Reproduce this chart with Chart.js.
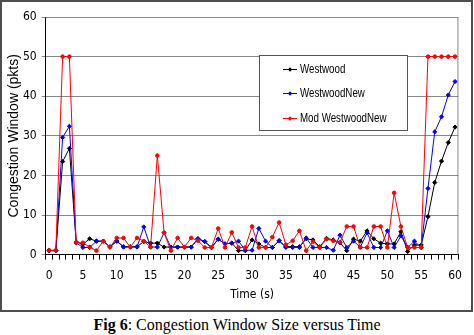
<!DOCTYPE html>
<html>
<head>
<meta charset="utf-8">
<script src="https://cdn.jsdelivr.net/npm/chart.js@4.4.1/dist/chart.umd.min.js"></script>
<style>
  body { margin: 0; background: #fff; }
  #frame { position: absolute; left: 0; top: 0; width: 469px; height: 308px; border: 2px solid #4d4d4d; background: #fff; }
  #caption { position: absolute; left: 0; top: 316px; width: 474px; text-align: center;
    font-family: "Liberation Serif", "Times New Roman", serif; font-size: 16px; color: #000; line-height: 18px; }
</style>
</head>
<body>
<div id="frame"><canvas id="myChart" width="469" height="308"></canvas></div>
<div id="caption"><b>Fig 6</b>: Congestion Window Size versus Time</div>
<script>
const time = [0, 1, 2, 3, 4, 5, 6, 7, 8, 9, 10, 11, 12, 13, 14, 15, 16, 17, 18, 19, 20,
  21, 22, 23, 24, 25, 26, 27, 28, 29, 30, 31, 32, 33, 34, 35, 36, 37, 38, 39, 40,
  41, 42, 43, 44, 45, 46, 47, 48, 49, 50, 51, 52, 53, 54, 55, 56, 57, 58, 59, 60];

const westwood = [1, 1, 23.5, 26.8, 3.2, 2.6, 4.0, 3.4, 3.4, 2.0, 3.4, 2.0, 2.0, 2.0, 3.3, 2.9, 2.9, 1.9, 1.9, 1.9, 1.9,
  1.9, 4.0, 3.3, 1.8, 3.9, 2.7, 2.9, 1.0, 1.0, 3.7, 2.7, 1.8, 1.8, 3.5, 2.0, 2.0, 2.0, 4.0, 3.7, 2.0,
  4.1, 3.7, 3.0, 1.0, 3.9, 3.4, 6.0, 4.0, 2.9, 2.7, 2.7, 5.8, 0.8, 2.4, 2.4, 9.6, 18.2, 23.6, 28.3, 32.2];

const westwoodNew = [1, 1, 29.6, 32.4, 3.0, 1.8, 1.8, 3.4, 3.4, 1.9, 3.4, 1.9, 1.9, 1.9, 7.0, 1.9, 1.9, 5.5, 1.9, 1.9, 1.9,
  1.9, 4.0, 3.3, 1.8, 3.9, 2.7, 2.9, 3.4, 1.1, 1.1, 6.6, 3.4, 1.8, 3.5, 1.8, 1.8, 1.8, 4.2, 1.8, 1.8,
  1.8, 1.1, 4.9, 1.8, 3.4, 1.9, 5.5, 1.8, 1.8, 6.0, 1.8, 4.7, 1.8, 3.4, 1.8, 16.7, 31.0, 34.8, 40.3, 43.7];

const modWestwoodNew = [1.1, 1.1, 50, 50, 3.0, 3.0, 1.9, 1.0, 3.4, 1.9, 4.2, 4.2, 1.9, 4.2, 3.4, 1.9, 25, 5.5, 1.0, 4.2, 1.9,
  4.2, 3.5, 1.8, 1.8, 6.6, 1.8, 5.6, 1.8, 1.8, 7.1, 1.8, 1.8, 4.4, 8.1, 2.5, 3.5, 6.0, 1.0, 3.3, 1.8,
  3.9, 3.5, 3.1, 7.1, 7.1, 1.8, 1.8, 7.1, 7.1, 1.8, 15.6, 7.1, 1.8, 1.8, 1.8, 50, 50, 50, 50, 50];

const yTicks = [0, 10, 20, 30, 40, 50, 60];

const narrow = '"Liberation Sans Narrow", "DejaVu Sans Condensed", "Liberation Sans", Arial, sans-serif';

// plot frame + legend box inside the plot, like the old spreadsheet chart
const boxLegend = {
  id: 'boxLegend',
  afterDraw(chart) {
    const ctx = chart.ctx;
    const a = chart.chartArea;
    ctx.save();
    ctx.strokeStyle = '#8a8a8a';
    ctx.lineWidth = 1;
    ctx.beginPath();
    ctx.moveTo(a.left, a.top + 0.5);
    ctx.lineTo(a.right - 0.5, a.top + 0.5);
    ctx.lineTo(a.right - 0.5, a.bottom);
    ctx.stroke();

    const bx = 257, by = 53, bw = 148, bh = 75;
    ctx.fillStyle = '#fff';
    ctx.fillRect(bx, by, bw, bh);
    ctx.strokeStyle = '#555';
    ctx.strokeRect(bx + 0.5, by + 0.5, bw, bh);

    const rows = [67, 91, 116];
    ctx.font = '13px "Liberation Sans", Arial, sans-serif';
    ctx.textBaseline = 'middle';
    chart.data.datasets.forEach(function(ds, i) {
      const y = rows[i] + 0.5;
      ctx.strokeStyle = ds.borderColor;
      ctx.beginPath();
      ctx.moveTo(281, y);
      ctx.lineTo(295, y);
      ctx.stroke();
      ctx.fillStyle = ds.borderColor;
      ctx.beginPath();
      ctx.moveTo(288, y - 2.2);
      ctx.lineTo(290.2, y);
      ctx.lineTo(288, y + 2.2);
      ctx.lineTo(285.8, y);
      ctx.closePath();
      ctx.fill();
      ctx.save();
      ctx.translate(298, y);
      ctx.scale(0.75, 1);
      ctx.fillStyle = '#000';
      ctx.fillText(ds.label, 0, 0);
      ctx.restore();
    });
    ctx.restore();
  }
};

const ctx = document.getElementById('myChart').getContext('2d');

const data = {
  labels: time,
  datasets: [
    {
      label: 'Westwood',
      data: westwood,
      borderColor: '#000000',
      backgroundColor: '#000000',
      borderWidth: 1,
      pointStyle: 'rectRot',
      pointRadius: 2.1,
      order: 2
    },
    {
      label: 'WestwoodNew',
      data: westwoodNew,
      borderColor: '#0000ff',
      backgroundColor: '#0000ff',
      borderWidth: 1,
      pointStyle: 'rectRot',
      pointRadius: 2.1,
      order: 1
    },
    {
      label: 'Mod WestwoodNew',
      data: modWestwoodNew,
      borderColor: '#ff0000',
      backgroundColor: '#ff0000',
      borderWidth: 1,
      pointStyle: 'circle',
      pointRadius: 1.8,
      order: 0
    }
  ]
};

const options = {
  responsive: false,
  animation: false,
  devicePixelRatio: 1,
  layout: { padding: { top: 15, right: 12.3, left: 0, bottom: 0 } },
  plugins: { legend: { display: false }, tooltip: { enabled: false } },
  elements: { line: { tension: 0 } },
  scales: {
    x: {
      type: 'category',
      offset: true,
      afterFit: function(scale) { scale.height = 55.4; },
      grid: { offset: true, drawOnChartArea: false, tickLength: 5, color: '#000' },
      border: { color: '#000' },
      ticks: {
        autoSkip: false, maxRotation: 0, minRotation: 0, padding: 9, color: '#000',
        font: { family: narrow, size: 12 },
        callback: function(v, i) { return time[i] % 5 === 0 ? String(time[i]) : ''; }
      },
      title: {
        display: true, text: 'Time (s)', color: '#000',
        font: { family: narrow, size: 12 }, padding: { top: 0, bottom: 8 }
      }
    },
    y: {
      min: 0, max: 60,
      afterFit: function(scale) { scale.width = 43.7; },
      afterBuildTicks: function(scale) { scale.ticks = yTicks.map(function(v) { return { value: v }; }); },
      grid: { color: '#888', tickLength: 4 },
      border: { color: '#000' },
      ticks: { padding: 5, color: '#000', font: { family: narrow, size: 12 } },
      title: {
        display: true, text: 'Congestion Window (pkts)', color: '#000',
        font: { family: '"Liberation Sans", Arial, sans-serif', size: 14 }, padding: { top: 4, bottom: 0 }
      }
    }
  }
};

const myChart = new Chart(ctx, {
  type: 'line',
  data: data,
  options: options,
  plugins: [boxLegend]
});
</script>
</body>
</html>
